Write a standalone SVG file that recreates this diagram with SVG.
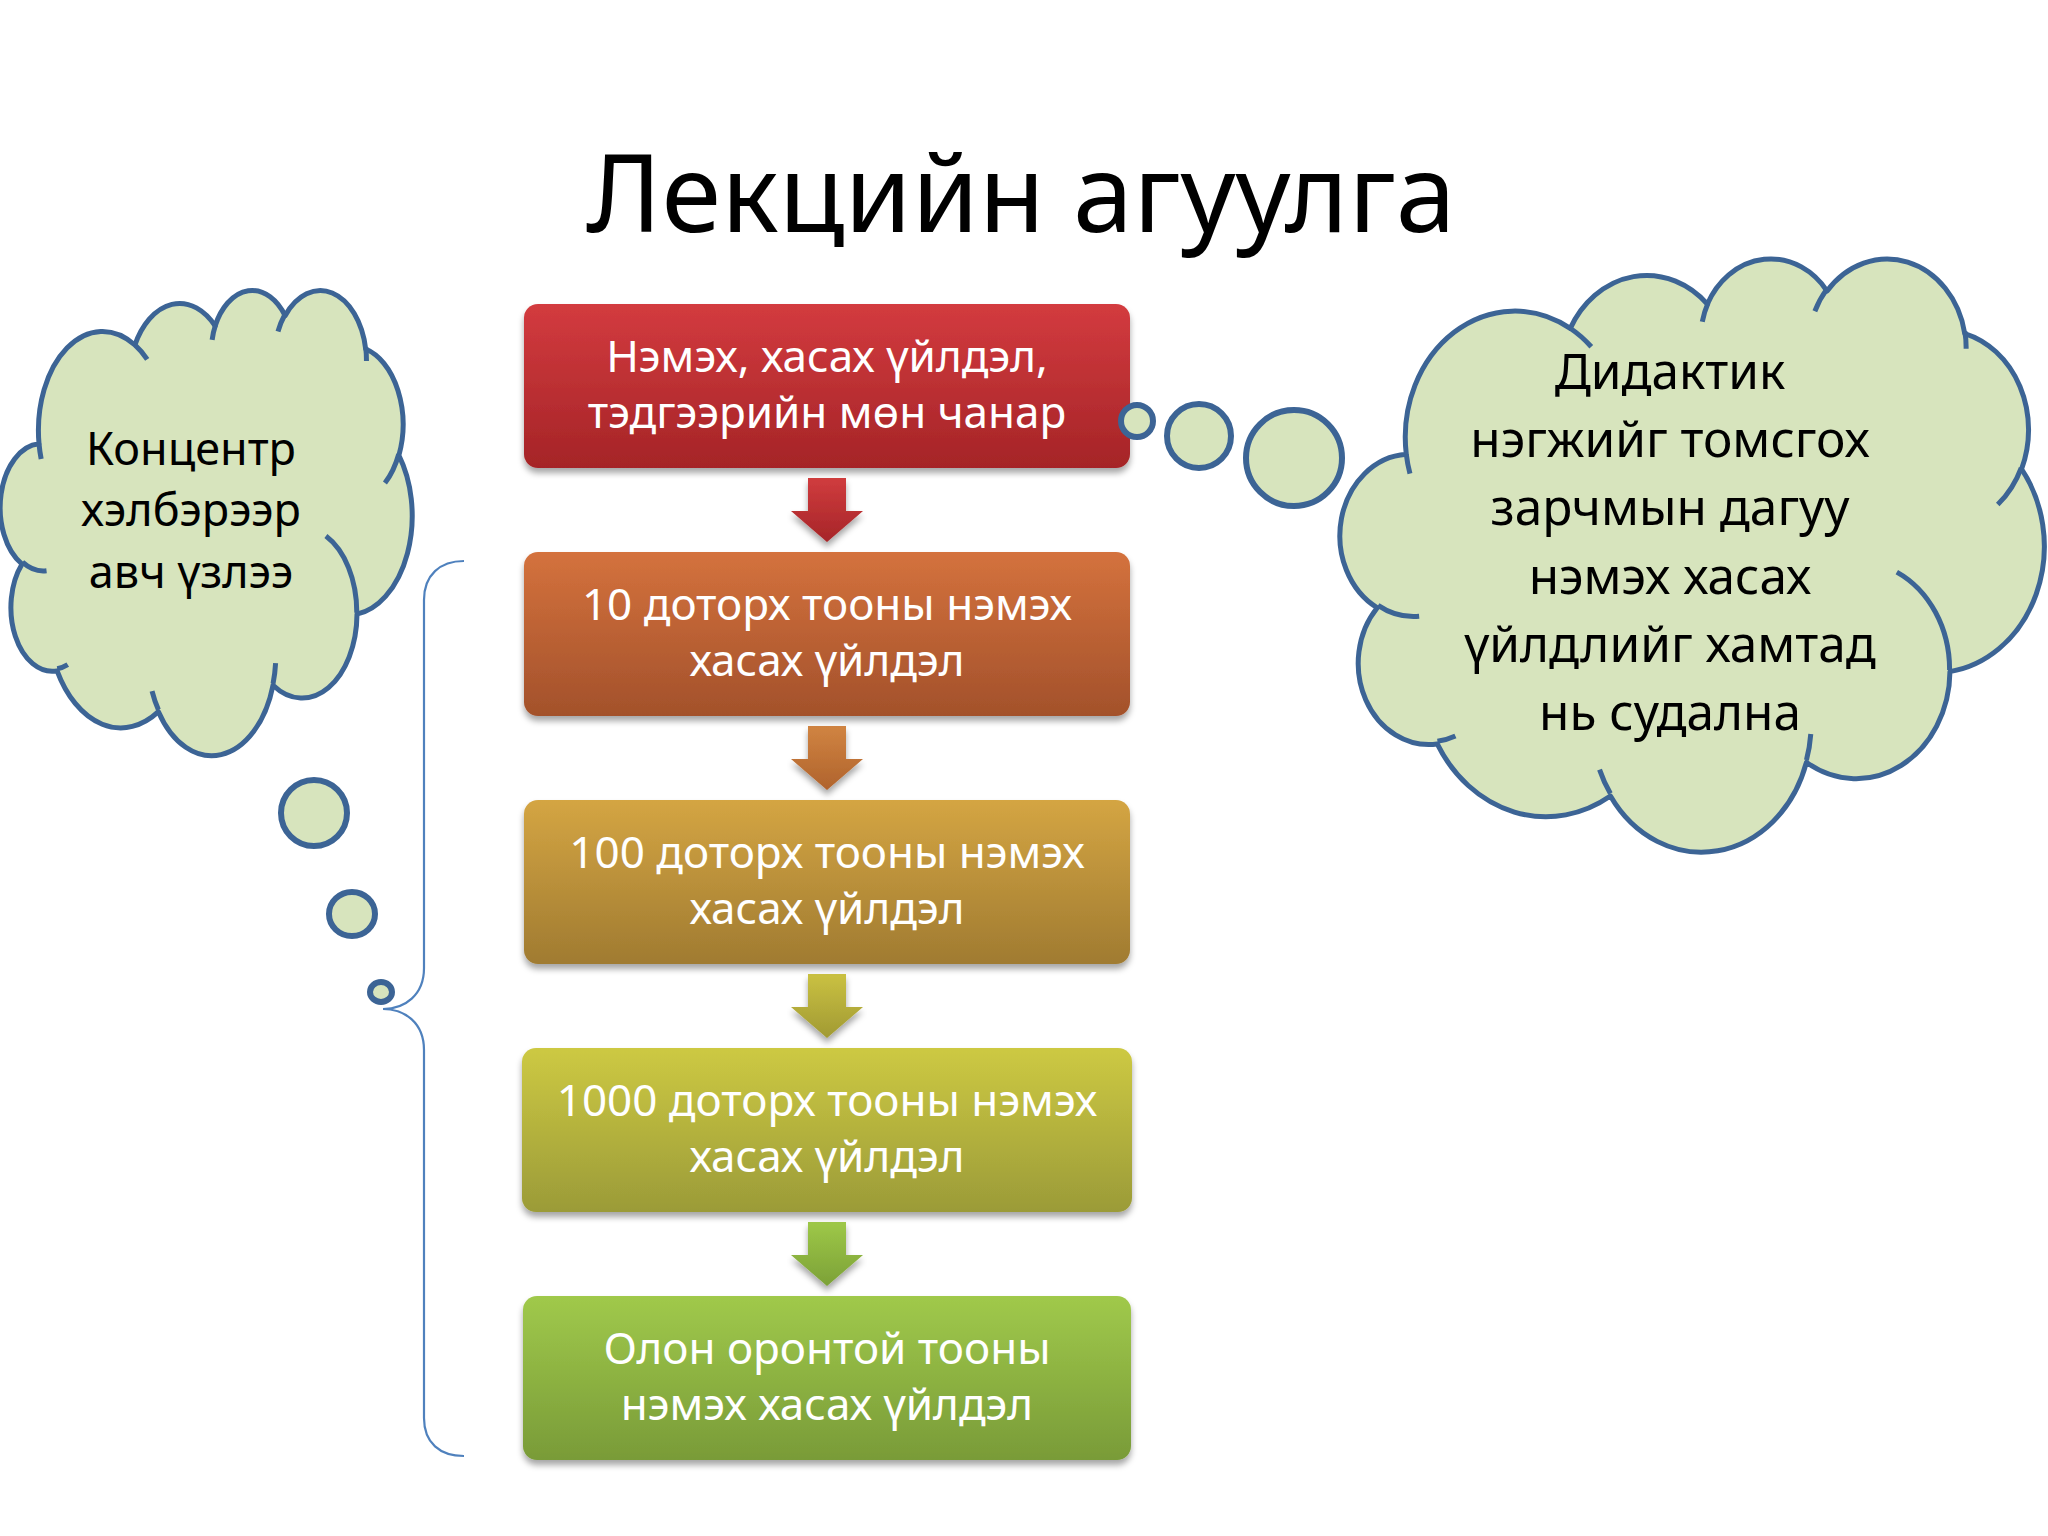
<svg xmlns="http://www.w3.org/2000/svg" xmlns:xlink="http://www.w3.org/1999/xlink" width="2048" height="1536" viewBox="0 0 2048 1536">
<style>
.title{font-family:"Noto Sans","Open Sans","DejaVu Sans",sans-serif;font-size:108px;fill:#000;text-anchor:middle}
.bt{font-family:"Noto Sans","Open Sans","DejaVu Sans",sans-serif;font-size:44px;fill:#fff;text-anchor:middle}
.ct{font-family:"Noto Sans","Open Sans","DejaVu Sans",sans-serif;fill:#000;text-anchor:middle}
.cloud{fill:#d7e4bd;stroke:#3c6495;stroke-width:5;stroke-linejoin:round}
.hook{fill:none;stroke:#3c6495;stroke-width:5}
.bub{fill:#d7e4bd;stroke:#3c6495;stroke-width:6}
.brace{fill:none;stroke:#4f81bd;stroke-width:2.2}
</style>
<defs>
<filter id="sh" x="-5%" y="-10%" width="110%" height="130%">
<feDropShadow dx="0" dy="5" stdDeviation="3" flood-color="#000" flood-opacity="0.35"/>
</filter>
<linearGradient id="g1" x1="0" y1="0" x2="0" y2="1"><stop offset="0" stop-color="#d33b3f"/><stop offset="1" stop-color="#a52427"/></linearGradient>
<linearGradient id="g2" x1="0" y1="0" x2="0" y2="1"><stop offset="0" stop-color="#d4723d"/><stop offset="1" stop-color="#a3512b"/></linearGradient>
<linearGradient id="g3" x1="0" y1="0" x2="0" y2="1"><stop offset="0" stop-color="#d4a543"/><stop offset="1" stop-color="#a07b31"/></linearGradient>
<linearGradient id="g4" x1="0" y1="0" x2="0" y2="1"><stop offset="0" stop-color="#cdc943"/><stop offset="1" stop-color="#9b9b38"/></linearGradient>
<linearGradient id="g5" x1="0" y1="0" x2="0" y2="1"><stop offset="0" stop-color="#a0c94b"/><stop offset="1" stop-color="#799b38"/></linearGradient>
<linearGradient id="a1" x1="0" y1="0" x2="0" y2="1"><stop offset="0" stop-color="#d03c3e"/><stop offset="1" stop-color="#a62528"/></linearGradient>
<linearGradient id="a2" x1="0" y1="0" x2="0" y2="1"><stop offset="0" stop-color="#d08442"/><stop offset="1" stop-color="#b0632c"/></linearGradient>
<linearGradient id="a3" x1="0" y1="0" x2="0" y2="1"><stop offset="0" stop-color="#cac142"/><stop offset="1" stop-color="#a19a33"/></linearGradient>
<linearGradient id="a4" x1="0" y1="0" x2="0" y2="1"><stop offset="0" stop-color="#9ec848"/><stop offset="1" stop-color="#7ca137"/></linearGradient>
</defs>
<rect width="2048" height="1536" fill="#fff"/>
<text class="title" x="1021" y="232">Лекцийн агуулга</text>

<g id="connectors">
<path d="M808 478 H846 V511 H863 L827 542 L791 511 H808 Z" fill="url(#a1)" filter="url(#sh)"/>
<path d="M808 726 H846 V759 H863 L827 790 L791 759 H808 Z" fill="url(#a2)" filter="url(#sh)"/>
<path d="M808 974 H846 V1007 H863 L827 1038 L791 1007 H808 Z" fill="url(#a3)" filter="url(#sh)"/>
<path d="M808 1222 H846 V1255 H863 L827 1286 L791 1255 H808 Z" fill="url(#a4)" filter="url(#sh)"/>
<path class="brace" d="M464 561 C440 561 424 575 424 600 L424 968 C424 995 405 1009 383 1009 C405 1009 424 1023 424 1050 L424 1418 C424 1443 440 1456 464 1456"/>
</g>

<g id="box1">
<rect x="524" y="304" width="606" height="164" rx="14" fill="url(#g1)" filter="url(#sh)"/>
<text class="bt" x="827" y="372">Нэмэх, хасах үйлдэл,</text>
<text class="bt" x="827" y="428">тэдгээрийн мөн чанар</text>
</g>
<g id="box2">
<rect x="524" y="552" width="606" height="164" rx="14" fill="url(#g2)" filter="url(#sh)"/>
<text class="bt" x="827" y="620">10 доторх тооны нэмэх</text>
<text class="bt" x="827" y="676">хасах үйлдэл</text>
</g>
<g id="box3">
<rect x="524" y="800" width="606" height="164" rx="14" fill="url(#g3)" filter="url(#sh)"/>
<text class="bt" x="827" y="868">100 доторх тооны нэмэх</text>
<text class="bt" x="827" y="924">хасах үйлдэл</text>
</g>
<g id="box4">
<rect x="522" y="1048" width="610" height="164" rx="14" fill="url(#g4)" filter="url(#sh)"/>
<text class="bt" x="827" y="1116">1000 доторх тооны нэмэх</text>
<text class="bt" x="827" y="1172">хасах үйлдэл</text>
</g>
<g id="box5">
<rect x="523" y="1296" width="608" height="164" rx="14" fill="url(#g5)" filter="url(#sh)"/>
<text class="bt" x="827" y="1364">Олон оронтой тооны</text>
<text class="bt" x="827" y="1420">нэмэх хасах үйлдэл</text>
</g>

<g id="cloud-left">
<g transform="translate(2,289) scale(0.009491,0.010764)">
<path class="cloud" vector-effect="non-scaling-stroke" d="M3900 14370 A6753 9190 0 0 1 14004.8 5202.1 A5333 7267 0 0 1 22455.6 3430.4 A4365 5945 0 0 1 29832.3 2478.4 A4857 6595 0 0 1 38316.9 5574.5 A5333 7273 0 0 1 41817.3 15458.1 A6775 9220 0 0 1 37404 30202.8 A5785 7867 0 0 1 28556.3 36813.6 A6752 9215 0 0 1 16481.7 39266.8 A7720 10543 0 0 1 5806.5 35473.8 A4360 5918 0 0 1 2112.9 25555.2 A4345 5945 0 0 1 3900 14370 Z"/>
<path class="hook" vector-effect="non-scaling-stroke" d="M4693 26177 A4345 5945 0 0 1 2159.3 25379.5 M6928 34899 A4360 5918 0 0 1 5819.7 35280.4 M16478 39090 A6752 9215 0 0 1 15809.3 37347.8 M28827 34751 A6752 9215 0 0 1 28560.4 36659.8 M34129 22954 A5785 7867 0 0 1 37380.5 30089.7 M41798 15354 A5333 7273 0 0 1 40349.3 18031 M38324 5426 A4857 6595 0 0 1 38400.4 6689.6 M29078 3952 A4857 6595 0 0 1 29820.1 2339.8 M22141 4720 A4365 5945 0 0 1 22500.2 3329.8 M14000 5192 A6753 9190 0 0 1 15300.4 6540.8 M4127 15789 A6753 9190 0 0 1 3900.5 14371.3"/>
</g>
<text class="ct" font-size="45" x="191" y="465">Концентр</text>
<text class="ct" font-size="45" x="191" y="526">хэлбэрээр</text>
<text class="ct" font-size="45" x="191" y="588">авч үзлээ</text>
<ellipse class="bub" cx="314" cy="813" rx="33" ry="33"/>
<ellipse class="bub" cx="352" cy="914" rx="23" ry="22"/>
<ellipse class="bub" cx="381" cy="992" rx="11" ry="10"/>
</g>

<g id="cloud-right">
<g transform="translate(1343,257) scale(0.016227,0.013727)">
<path class="cloud" vector-effect="non-scaling-stroke" d="M3900 14370 A6753 9190 0 0 1 14004.8 5202.1 A5333 7267 0 0 1 22455.6 3430.4 A4365 5945 0 0 1 29832.3 2478.4 A4857 6595 0 0 1 38316.9 5574.5 A5333 7273 0 0 1 41817.3 15458.1 A6775 9220 0 0 1 37404 30202.8 A5785 7867 0 0 1 28556.3 36813.6 A6752 9215 0 0 1 16481.7 39266.8 A7720 10543 0 0 1 5806.5 35473.8 A4360 5918 0 0 1 2112.9 25555.2 A4345 5945 0 0 1 3900 14370 Z"/>
<path class="hook" vector-effect="non-scaling-stroke" d="M4693 26177 A4345 5945 0 0 1 2159.3 25379.5 M6928 34899 A4360 5918 0 0 1 5819.7 35280.4 M16478 39090 A6752 9215 0 0 1 15809.3 37347.8 M28827 34751 A6752 9215 0 0 1 28560.4 36659.8 M34129 22954 A5785 7867 0 0 1 37380.5 30089.7 M41798 15354 A5333 7273 0 0 1 40349.3 18031 M38324 5426 A4857 6595 0 0 1 38400.4 6689.6 M29078 3952 A4857 6595 0 0 1 29820.1 2339.8 M22141 4720 A4365 5945 0 0 1 22500.2 3329.8 M14000 5192 A6753 9190 0 0 1 15300.4 6540.8 M4127 15789 A6753 9190 0 0 1 3900.5 14371.3"/>
</g>
<text class="ct" font-size="49.5" x="1670" y="389">Дидактик</text>
<text class="ct" font-size="49.5" x="1670" y="457">нэгжийг томсгох</text>
<text class="ct" font-size="49.5" x="1670" y="525">зарчмын дагуу</text>
<text class="ct" font-size="49.5" x="1670" y="594">нэмэх хасах</text>
<text class="ct" font-size="49.5" x="1670" y="662">үйлдлийг хамтад</text>
<text class="ct" font-size="49.5" x="1670" y="730">нь судална</text>
<ellipse class="bub" cx="1137" cy="421" rx="16" ry="16"/>
<ellipse class="bub" cx="1199" cy="436" rx="32" ry="32"/>
<ellipse class="bub" cx="1294" cy="458" rx="48" ry="48"/>
</g>
</svg>
